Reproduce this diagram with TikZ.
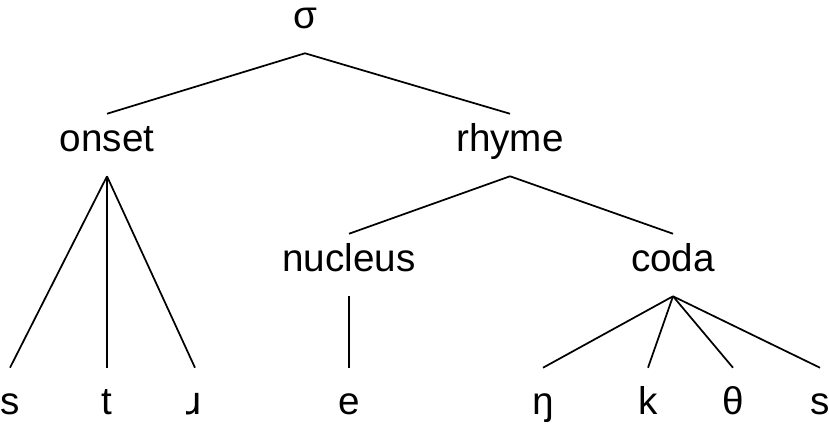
\documentclass[tikz,border=0pt]{standalone}
\usepackage{fontspec}
\setmainfont{Liberation Sans}
\newfontfamily\ipafont{DejaVu Sans}
\tikzset{
  cat/.style={inner sep=0pt, minimum height=46.5pt, text height=16pt, text depth=6pt,
    font=\fontsize{29}{30}\selectfont},
  leaf/.style={cat, minimum height=60pt},
  branch/.style={line width=1.3pt}
}
\begin{document}
\begin{tikzpicture}[x=0.75pt,y=-0.75pt]
 \useasboundingbox (0,0) rectangle (829,426);

 % Categories
 \node[cat] (syl) at (305,22) {σ};
 \node[cat] (onset) at (107,145) {onset};
 \node[cat] (rhyme) at (510,145) {rhyme};
 \node[cat] (nuc) at (349,265) {nucleus};
 \node[cat] (coda) at (673,265) {coda};

 % Segments
 \node[leaf] (s1) at (10,408) {s};
 \node[leaf] (t) at (107,408) {t};
 \node[leaf] (r) at (195,408) {\ipafont ɹ};
 \node[leaf] (e) at (349,408) {e};
 \node[leaf] (ng) at (543,408) {ŋ};
 \node[leaf] (k) at (648,408) {k};
 \node[leaf] (th) at (733,408) {θ};
 \node[leaf] (s2) at (820,408) {s};

 % Branches
 \foreach \a/\b in {syl/onset, syl/rhyme, onset/s1, onset/t, onset/r,
   rhyme/nuc, rhyme/coda, nuc/e, coda/ng, coda/k, coda/th, coda/s2}{
   \draw[branch] (\a.south) -- (\b.north);
 }

\end{tikzpicture}
\end{document}
